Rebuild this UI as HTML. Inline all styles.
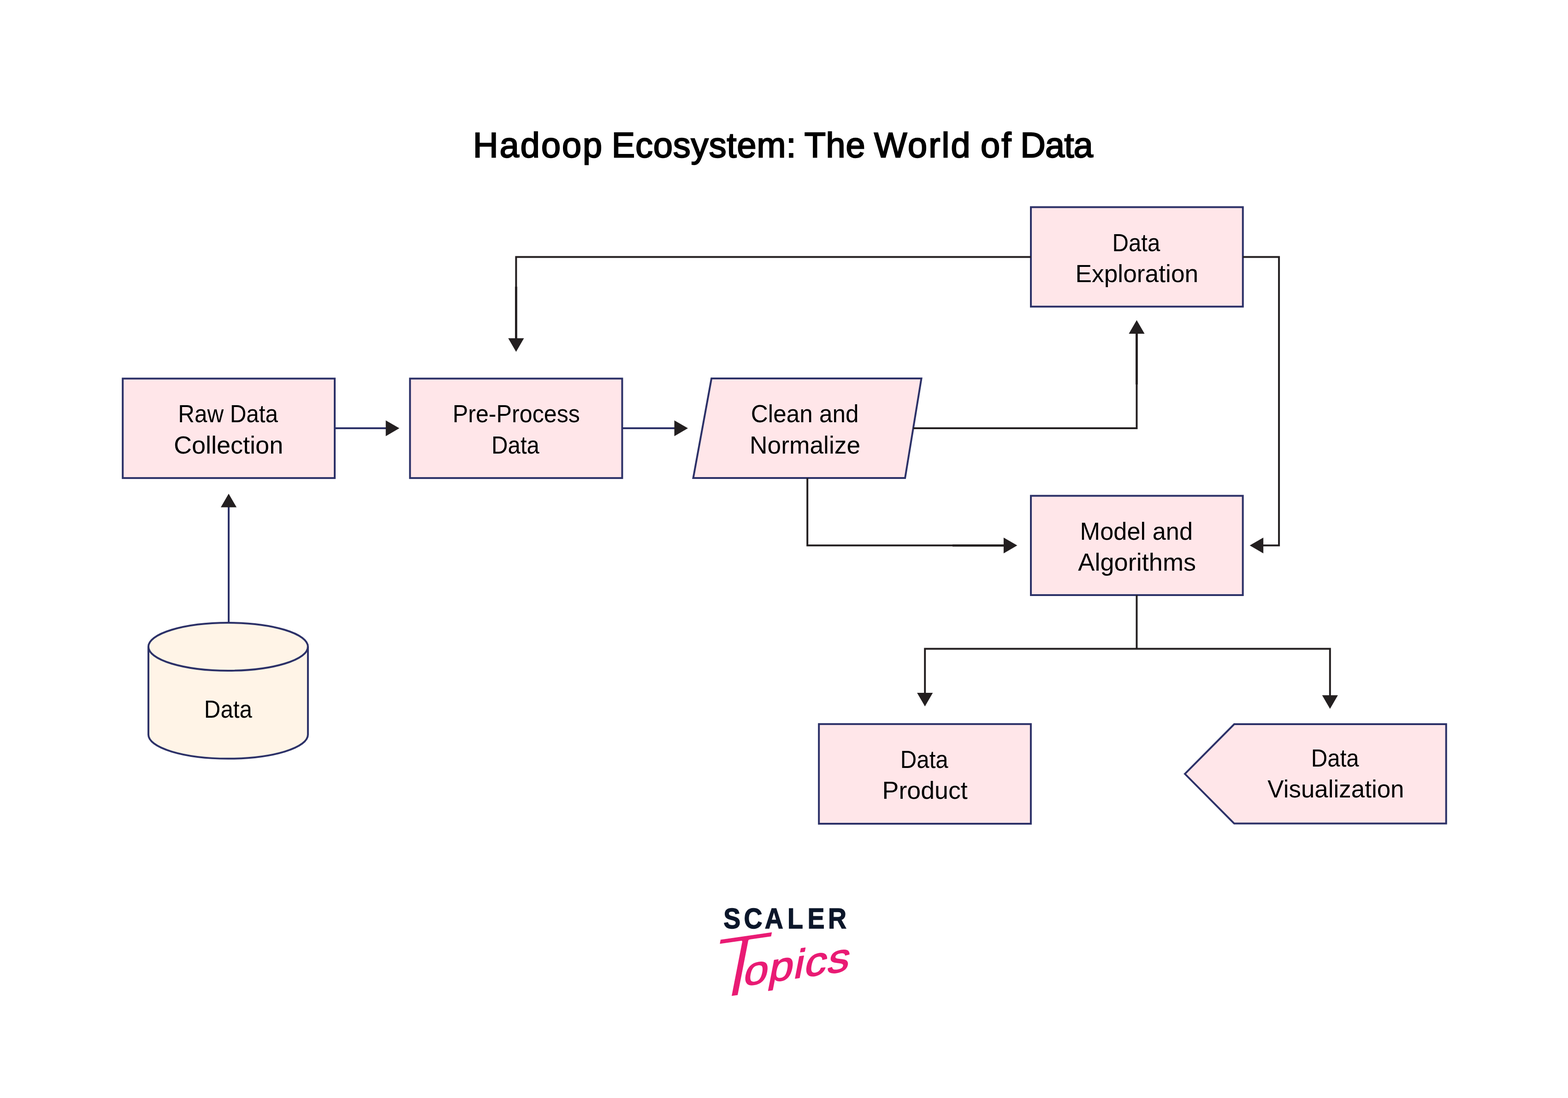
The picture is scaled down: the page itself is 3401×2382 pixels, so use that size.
<!DOCTYPE html>
<html lang="en">
<head>
<meta charset="utf-8">
<title>Hadoop Ecosystem: The World of Data</title>
<style>
html, body { margin: 0; padding: 0; background: #ffffff; }
body { width: 3401px; height: 2382px; overflow: hidden; }
svg { display: block; }
text { white-space: pre; }
</style>
</head>
<body>
<svg width="3401" height="2382" viewBox="0 0 3401 2382">
<rect width="3401" height="2382" fill="#ffffff"/>
<g id="shapes">
<rect x="266.20" y="821.30" width="459.80" height="215.80" fill="#ffe6e9" stroke="#2c3168" stroke-width="4"/>
<rect x="889.30" y="821.30" width="460.20" height="215.80" fill="#ffe6e9" stroke="#2c3168" stroke-width="4"/>
<polygon points="1543.20,821.10 1998.50,821.10 1963.10,1037.10 1503.60,1037.10" fill="#ffe6e9" stroke="#2c3168" stroke-width="4" stroke-linejoin="miter"/>
<rect x="2236.00" y="449.40" width="459.80" height="215.80" fill="#ffe6e9" stroke="#2c3168" stroke-width="4"/>
<rect x="2236.00" y="1075.60" width="459.70" height="215.40" fill="#ffe6e9" stroke="#2c3168" stroke-width="4"/>
<rect x="1776.20" y="1570.80" width="459.70" height="216.20" fill="#ffe6e9" stroke="#2c3168" stroke-width="4"/>
<polygon points="2570.00,1678.80 2677.00,1571.00 3136.70,1571.00 3136.70,1786.60 2677.00,1786.60" fill="#ffe6e9" stroke="#2c3168" stroke-width="4" stroke-linejoin="miter"/>
<path d="M321.90,1403.00 A173.0,52.0 0 0 1 667.90,1403.00 L667.90,1593.80 A173.0,52.0 0 0 1 321.90,1593.80 Z" fill="#fff4e7" stroke="#2c3168" stroke-width="4"/>
<path d="M321.90,1403.00 A173.0,52.0 0 0 0 667.90,1403.00" fill="none" stroke="#2c3168" stroke-width="4"/>
</g>
<g id="connectors">
<polyline points="496.00,1351.00 496.00,1095.00" fill="none" stroke="#2c3168" stroke-width="4" stroke-linejoin="miter"/>
<polygon points="496.00,1071.00 478.90,1100.50 513.10,1100.50" fill="#231f20"/>
<polyline points="726.00,929.10 840.00,929.10" fill="none" stroke="#2c3168" stroke-width="4" stroke-linejoin="miter"/>
<polygon points="866.20,929.10 836.70,912.00 836.70,946.20" fill="#231f20"/>
<polyline points="1349.50,929.10 1465.00,929.10" fill="none" stroke="#2c3168" stroke-width="4" stroke-linejoin="miter"/>
<polygon points="1492.10,929.10 1462.60,912.00 1462.60,946.20" fill="#231f20"/>
<polyline points="2236.00,557.60 1119.40,557.60 1119.40,740.00" fill="none" stroke="#231f20" stroke-width="4" stroke-linejoin="miter"/>
<polyline points="1119.40,622.00 1119.40,740.00" fill="none" stroke="#231f20" stroke-width="4.8" stroke-linejoin="miter"/>
<polygon points="1119.40,763.20 1102.30,733.70 1136.50,733.70" fill="#231f20"/>
<polyline points="1980.80,929.10 2465.50,929.10 2465.50,720.00" fill="none" stroke="#231f20" stroke-width="4" stroke-linejoin="miter"/>
<polyline points="2465.50,834.00 2465.50,720.00" fill="none" stroke="#231f20" stroke-width="4.8" stroke-linejoin="miter"/>
<polygon points="2465.50,694.40 2448.40,723.90 2482.60,723.90" fill="#231f20"/>
<polyline points="2695.80,557.60 2774.10,557.60 2774.10,1183.30 2735.00,1183.30" fill="none" stroke="#231f20" stroke-width="4" stroke-linejoin="miter"/>
<polygon points="2710.70,1183.30 2740.20,1166.20 2740.20,1200.40" fill="#231f20"/>
<polyline points="1751.20,1037.10 1751.20,1183.30 2180.00,1183.30" fill="none" stroke="#231f20" stroke-width="4" stroke-linejoin="miter"/>
<polyline points="2066.00,1183.30 2180.00,1183.30" fill="none" stroke="#231f20" stroke-width="4.8" stroke-linejoin="miter"/>
<polygon points="2206.40,1183.30 2176.90,1166.20 2176.90,1200.40" fill="#231f20"/>
<polyline points="2465.50,1291.00 2465.50,1407.60" fill="none" stroke="#231f20" stroke-width="4" stroke-linejoin="miter"/>
<polyline points="2006.20,1510.00 2006.20,1407.60 2884.80,1407.60 2884.80,1515.00" fill="none" stroke="#231f20" stroke-width="4" stroke-linejoin="miter"/>
<polygon points="2006.20,1532.40 1989.10,1502.90 2023.30,1502.90" fill="#231f20"/>
<polygon points="2884.80,1537.80 2867.70,1508.30 2901.90,1508.30" fill="#231f20"/>
</g>
<g id="labels" font-family="'Liberation Sans', sans-serif">
<text y="341.30" font-size="75.6" fill="#000" stroke="#000" stroke-width="2.4" stroke-linejoin="miter"><tspan x="1026.05" letter-spacing="3.06">Hadoop</tspan> <tspan x="1326.85" letter-spacing="0.99">Ecosystem:</tspan> <tspan x="1744.69" letter-spacing="0.75">The</tspan> <tspan x="1896.01" letter-spacing="3.13">World</tspan> <tspan x="2127.07" letter-spacing="3.20">of</tspan> <tspan x="2213.15" letter-spacing="-0.69">Data</tspan></text>
<text transform="translate(386.35 916.10) scale(0.9219 1)" font-size="53.50" fill="#000">Raw Data</text>
<text transform="translate(376.90 983.60) scale(1.0107 1)" font-size="53.50" fill="#000">Collection</text>
<text transform="translate(981.68 916.10) scale(0.9385 1)" font-size="53.50" fill="#000">Pre-Process</text>
<text transform="translate(1066.06 983.90) scale(0.9196 1)" font-size="53.50" fill="#000">Data</text>
<text transform="translate(1628.84 915.90) scale(0.9588 1)" font-size="53.50" fill="#000">Clean and</text>
<text transform="translate(1626.03 983.90) scale(0.9975 1)" font-size="53.50" fill="#000">Normalize</text>
<text transform="translate(2412.46 544.90) scale(0.9196 1)" font-size="53.50" fill="#000">Data</text>
<text transform="translate(2332.43 612.20) scale(0.9973 1)" font-size="53.50" fill="#000">Exploration</text>
<text transform="translate(2342.61 1171.00) scale(0.9789 1)" font-size="53.50" fill="#000">Model and</text>
<text transform="translate(2338.30 1237.80) scale(1.0127 1)" font-size="53.50" fill="#000">Algorithms</text>
<text transform="translate(1952.76 1665.90) scale(0.9196 1)" font-size="53.50" fill="#000">Data</text>
<text transform="translate(1913.60 1733.10) scale(1.0047 1)" font-size="53.50" fill="#000">Product</text>
<text transform="translate(2843.76 1663.00) scale(0.9196 1)" font-size="53.50" fill="#000">Data</text>
<text transform="translate(2749.37 1729.90) scale(0.9893 1)" font-size="53.50" fill="#000">Visualization</text>
<text transform="translate(442.86 1557.00) scale(0.9196 1)" font-size="53.50" fill="#000">Data</text>
</g>
<g id="logo" font-family="'Liberation Sans', sans-serif">
<text transform="matrix(1.0390 -0.1516 -0.1908 0.9816 1529.5 2171.7)" fill="#e91b74" stroke-linejoin="round"><tspan font-size="200" stroke="#ffffff" stroke-width="6">T</tspan><tspan font-size="91" dx="-49" dy="-21.8" stroke="#e91b74" stroke-width="2" letter-spacing="2">opics</tspan></text>
<text transform="translate(0 2014.3) scale(0.88 1)" x="1783.15 1833.50 1884.85 1940.97 1990.44 2040.99" font-weight="bold" font-size="63.0" fill="#0b162a" stroke="#0b162a" stroke-width="1.4" stroke-linejoin="miter">SCALER</text>
</g>
</svg>
</body>
</html>
